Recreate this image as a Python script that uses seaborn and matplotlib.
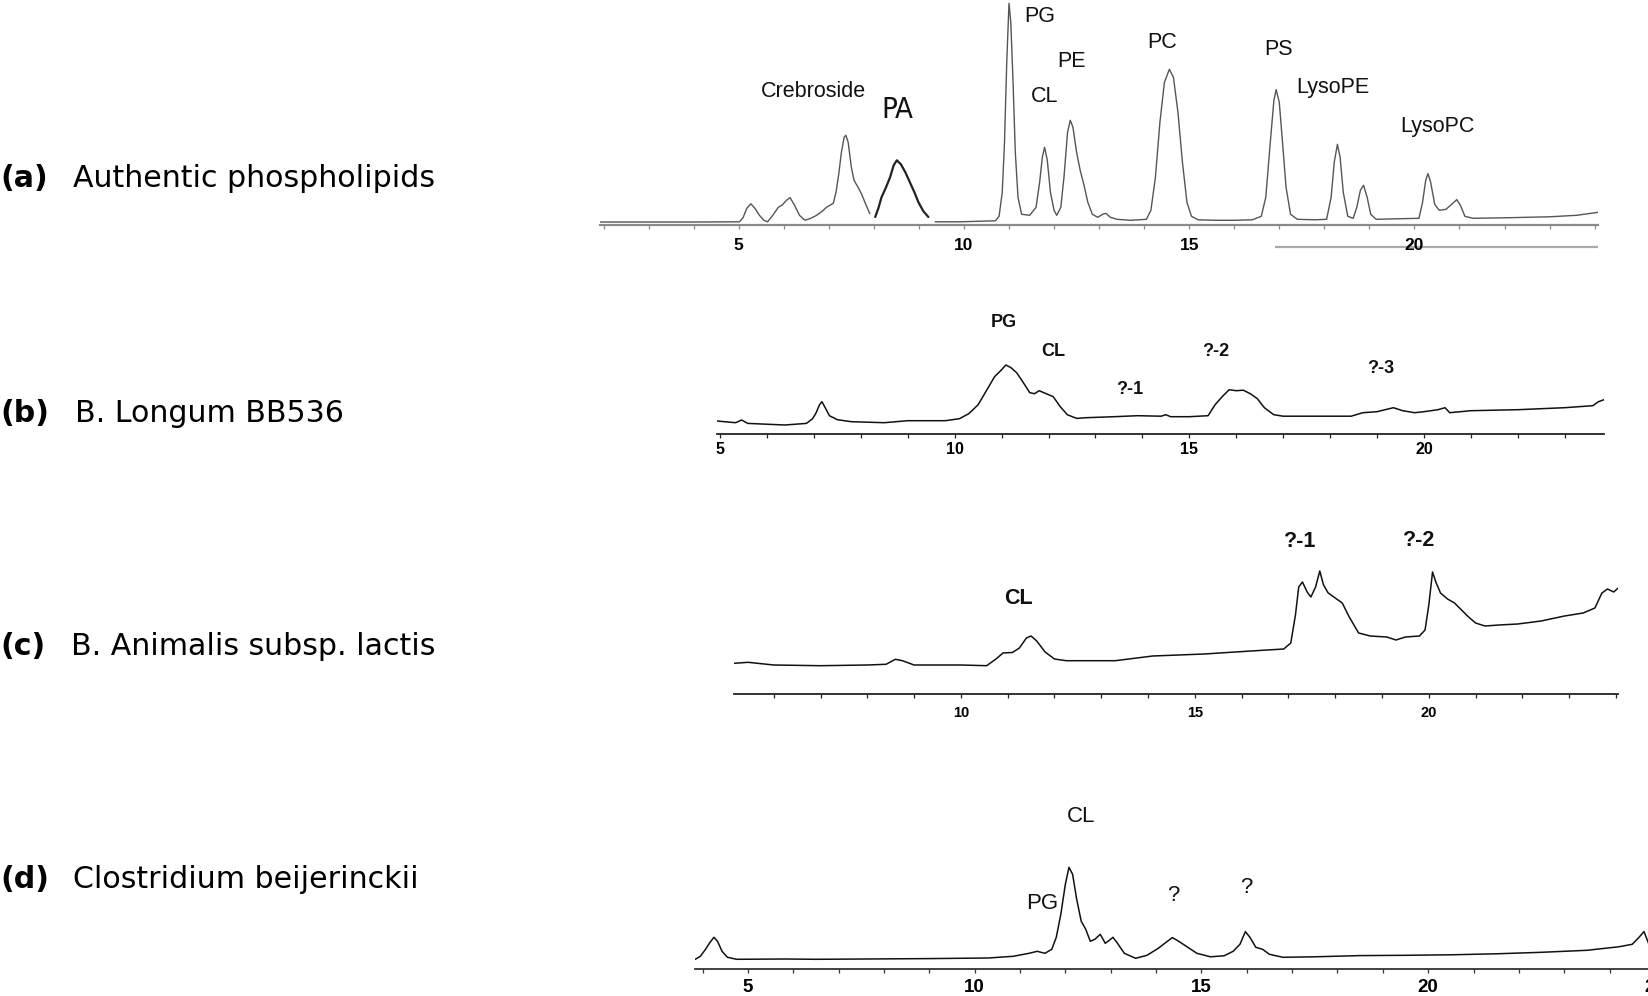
import matplotlib
matplotlib.use("Agg")
import matplotlib.pyplot as plt
from matplotlib.ticker import MultipleLocator
import seaborn as sns
import pandas as pd

# ---------------- data (retention time in min, detector response in a.u.) -------------
# (a) Authentic phospholipids : three recorded pieces of the trace
a1_time = [1.93, 3.0, 4.0, 5.02, 5.1, 5.18, 5.27, 5.36, 5.46, 5.56, 5.64, 5.74, 5.88, 5.96,
           6.06, 6.14, 6.24, 6.35, 6.47, 6.6, 6.73, 6.85, 6.95, 7.1, 7.16, 7.22, 7.28, 7.34,
           7.38, 7.43, 7.5, 7.56, 7.65, 7.73, 7.82, 7.91]
a1_signal = [0.3, 0.3, 0.3, 0.5, 5, 14, 18.5, 14, 7, 2, 0.5, 6, 15, 17,
             22, 24.7, 17, 7, 2, 4, 7, 11, 15, 19, 30, 48, 70, 85,
             87, 80, 55, 42, 35, 28, 18, 8.7]
a2_time = [8.03, 8.1, 8.17, 8.27, 8.36, 8.44, 8.51, 8.6, 8.7, 8.8, 8.9, 8.99, 9.1, 9.21]
a2_signal = [5.3, 14, 25, 35, 45, 57, 62, 58, 50, 40, 30, 20, 11, 5.3]
a3_time = [9.36, 9.92, 10.3, 10.7, 10.78, 10.85, 10.9, 10.95, 11.0, 11.04, 11.09, 11.14, 11.2,
           11.28, 11.46, 11.6, 11.68, 11.74, 11.79, 11.85, 11.92, 12.0, 12.06, 12.15, 12.22,
           12.3, 12.36, 12.42, 12.5, 12.58, 12.66, 12.75, 12.85, 12.97, 13.08, 13.15, 13.25,
           13.4, 13.7, 14.05, 14.15, 14.25, 14.35, 14.45, 14.56, 14.65, 14.75, 14.85, 14.95,
           15.05, 15.2, 15.6, 16.0, 16.4, 16.6, 16.7, 16.8, 16.88, 16.93, 17.0, 17.08, 17.15,
           17.25, 17.4, 17.8, 18.05, 18.15, 18.22, 18.29, 18.35, 18.42, 18.52, 18.64, 18.72,
           18.8, 18.87, 18.95, 19.03, 19.15, 19.6, 20.1, 20.18, 20.25, 20.3, 20.36, 20.45,
           20.55, 20.7, 20.85, 20.94, 21.02, 21.12, 21.3, 22.0, 23.0, 23.6, 24.08]
a3_signal = [0.5, 0.5, 1.0, 1.5, 6, 30, 80, 160, 219, 200, 140, 70, 25,
             8, 7, 15, 40, 65, 75, 62, 30, 12, 7, 15, 45,
             90, 102, 95, 70, 52, 38, 20, 8, 5, 8, 9, 5,
             3, 2, 3, 12, 45, 100, 140, 153, 145, 110, 60, 20,
             6, 2.5, 2, 2, 2.5, 6, 25, 80, 122, 132.7, 120, 75, 35,
             8, 3, 2.5, 3, 25, 60, 78, 65, 30, 6, 4, 15,
             32, 37, 25, 8, 3, 3.5, 4, 20, 42, 48.7, 40, 18,
             12, 13, 19, 22.7, 17, 6, 4, 4.5, 5.5, 7, 10]
a_peak_names = ["Crebroside", "PG", "CL", "PE", "PC", "PS", "LysoPE", "LysoPC"]
a_peak_time = [6.67, 11.68, 11.78, 12.39, 14.41, 16.98, 18.19, 20.5]
a_peak_level = [130.6, 206.3, 125.6, 160.6, 179.6, 173.0, 135.0, 95.6]
a_pa_name, a_pa_time, a_pa_level = "PA", 8.51, 112.3

# (b) B. Longum BB536
b_time = [4.93, 5.33, 5.46, 5.59, 6.38, 6.84, 6.97, 7.04, 7.12, 7.17, 7.24, 7.33, 7.5, 7.8,
          8.5, 9.0, 9.8, 10.1, 10.3, 10.5, 10.7, 10.85, 11.0, 11.09, 11.2, 11.32, 11.45, 11.6,
          11.7, 11.8, 11.95, 12.1, 12.25, 12.4, 12.6, 12.8, 13.4, 13.9, 14.4, 14.5, 14.6,
          15.0, 15.4, 15.55, 15.7, 15.85, 16.0, 16.15, 16.3, 16.45, 16.6, 16.8, 17.0, 18.45,
          18.7, 19.0, 19.35, 19.55, 19.8, 20.0, 20.3, 20.45, 20.55, 21.0, 22.0, 23.0, 23.6,
          23.72, 23.84]
b_signal = [0.7, -1, 1.7, -1.7, -3.3, -1.7, 3, 8.3, 17, 20, 14, 6, 2, 0,
            -1, 1, 1, 3, 8, 17, 33, 45, 52, 56.7, 54, 49, 40, 29,
            28, 31, 28, 25, 15, 7, 3.3, 4, 5, 6, 5.5, 7, 5,
            5, 6, 17, 25, 32, 31, 31.5, 28, 23, 14, 7, 5.5, 5.5,
            9, 10, 14, 11, 9, 10, 12, 14, 9, 11, 12, 14, 16,
            20, 22]
b_peak_names = ["PG", "CL", "?-1", "?-2", "?-3"]
b_peak_time = [11.05, 12.11, 13.72, 15.56, 19.08]
b_peak_level = [99.4, 70.0, 31.7, 70.0, 53.4]

# (c) B. Animalis subsp. lactis
c_time = [5.16, 5.45, 6.0, 7.0, 8.0, 8.4, 8.6, 8.75, 9.0, 10.0, 10.55, 10.75, 10.9, 11.1,
          11.25, 11.4, 11.5, 11.62, 11.8, 12.0, 12.25, 13.3, 14.1, 15.2, 16.2, 16.9, 17.05,
          17.15, 17.22, 17.3, 17.4, 17.48, 17.58, 17.67, 17.75, 17.85, 18.0, 18.15, 18.3,
          18.5, 18.75, 19.1, 19.3, 19.5, 19.8, 19.92, 20.0, 20.08, 20.15, 20.25, 20.4, 20.55,
          20.7, 20.85, 21.0, 21.2, 21.5, 21.9, 22.4, 22.9, 23.3, 23.55, 23.7, 23.82, 23.95,
          24.05]
c_signal = [1.7, 2.7, 0, -0.7, 0, 0.7, 5.7, 4.3, 0, 0, -0.7, 6, 12, 12.5,
            17, 27, 29, 24, 13, 6, 4.3, 4.3, 9, 11, 14, 16, 22,
            50, 78, 83, 73, 68, 78, 94, 80, 72, 67, 62, 48,
            32, 29, 28, 25, 28, 29, 35, 60, 93, 83, 72, 66, 62,
            55, 48, 42, 39, 40, 41, 44, 49, 52, 57, 72, 76, 73,
            77]
c_peak_names = ["CL", "?-1", "?-2"]
c_peak_time = [11.23, 17.26, 19.8]
c_peak_level = [66.7, 123.3, 125.0]

# (d) Clostridium beijerinckii
d_time = [3.84, 3.95, 4.05, 4.15, 4.25, 4.33, 4.43, 4.55, 4.75, 5.8, 6.5, 7.6, 9.0, 10.3,
          10.85, 11.2, 11.38, 11.55, 11.7, 11.8, 11.9, 12.0, 12.08, 12.16, 12.25, 12.35,
          12.45, 12.55, 12.65, 12.77, 12.88, 12.97, 13.05, 13.15, 13.3, 13.55, 13.8, 14.05,
          14.25, 14.36, 14.5, 14.7, 14.9, 15.2, 15.5, 15.7, 15.85, 15.97, 16.07, 16.2, 16.35,
          16.5, 16.8, 17.5, 18.5, 19.5, 20.5, 21.5, 22.5, 23.5, 24.2, 24.5, 24.65, 24.76,
          24.86]
d_signal = [0, 3, 9, 16, 22, 18, 8, 2, 0, 0.3, 0, 0.3, 0.7, 1.3,
            3, 6, 8, 6, 10, 22, 45, 75, 92, 85, 60, 38,
            30, 18, 20, 25, 16, 19, 22, 16, 6, 1, 4, 11,
            18, 21.7, 18, 12, 6, 2.5, 3.5, 8, 15, 27.7, 22, 12, 10,
            5, 2, 2.5, 3.7, 4, 4.5, 5.5, 7, 9, 12.5, 15, 22, 27.7,
            16]
d_peak_names = ["CL", "PG", "?", "?"]
d_peak_time = [12.35, 11.49, 14.37, 15.98]
d_peak_level = [143.0, 56.0, 64.0, 72.0]

panel_tags = ["(a)", "(b)", "(c)", "(d)"]
panel_names = ["Authentic phospholipids", "B. Longum BB536",
               "B. Animalis subsp. lactis", "Clostridium beijerinckii"]

# ---------------- figure ----------------
sns.set_style("white")
plt.rcParams["font.family"] = ["DejaVu Sans"]
plt.rcParams["text.color"] = "black"

W, H = 1648, 996
fig = plt.figure(figsize=(W / 100, H / 100), dpi=100)
fig.patch.set_facecolor("white")


def add_panel(ref_min, ref_px, px_per_min, xlim, spine_px, top_px, ylim):
    x0 = ref_px + (xlim[0] - ref_min) * px_per_min
    x1 = ref_px + (xlim[1] - ref_min) * px_per_min
    ax = fig.add_axes([x0 / W, 1 - spine_px / H, (x1 - x0) / W, (spine_px - top_px) / H])
    ax.set_xlim(*xlim)
    ax.set_ylim(*ylim)
    ax.set_facecolor("none")
    for s in ("left", "top", "right"):
        ax.spines[s].set_visible(False)
    ax.set_yticks([])
    ax.xaxis.set_major_locator(MultipleLocator(5))
    ax.xaxis.set_minor_locator(MultipleLocator(1))
    return ax


def style_axis(ax, color, lw, labelsize, pad, weight):
    ax.spines["bottom"].set_color(color)
    ax.spines["bottom"].set_linewidth(lw)
    ax.tick_params(axis="x", which="both", direction="out", length=3.2, width=0.9,
                   color=color, bottom=True, pad=pad, labelsize=labelsize,
                   labelcolor="black", labelfontfamily="Liberation Sans")
    plt.setp(ax.get_xticklabels(), fontweight=weight)


lab_font = ["Liberation Sans", "DejaVu Sans"]

# (a)
ax_a = add_panel(5, 738.7, 45.05, (1.93, 24.08), 224.7, 0, (-2.4, 222.3))
df_a = pd.concat([
    pd.DataFrame({"time": a1_time, "signal": a1_signal, "segment": 1}),
    pd.DataFrame({"time": a2_time, "signal": a2_signal, "segment": 2}),
    pd.DataFrame({"time": a3_time, "signal": a3_signal, "segment": 3}),
])
sns.lineplot(data=df_a[df_a.segment != 2], x="time", y="signal", units="segment",
             estimator=None, sort=False, color="#555555", lw=1.0, ax=ax_a, legend=False)
sns.lineplot(data=df_a[df_a.segment == 2], x="time", y="signal", estimator=None,
             sort=False, color="#222222", lw=1.6, ax=ax_a, legend=False)
style_axis(ax_a, "#8a8a8a", 1.6, 12.5, 6.5, "bold")
ax_a.hlines(-25, 16.9, 24.08, color="#aaaaaa", lw=1.6, clip_on=False, zorder=0)
for name, t, lv in zip(a_peak_names, a_peak_time, a_peak_level):
    ax_a.text(t, lv, name, ha="center", va="center", fontsize=15.5, family=lab_font,
              color="#111111")
ax_a.text(a_pa_time, a_pa_level, a_pa_name, ha="center", va="center", fontsize=21,
          family=["Liberation Sans Narrow", "DejaVu Sans"], fontstretch="condensed",
          color="#111111")

# (b)
ax_b = add_panel(5, 720.1, 46.92, (4.93, 23.84), 434.0, 300, (-12.3, 121.7))
df_b = pd.DataFrame({"time": b_time, "signal": b_signal})
sns.lineplot(data=df_b, x="time", y="signal", estimator=None, sort=False,
             color="#111111", lw=1.1, ax=ax_b, legend=False)
style_axis(ax_b, "#222222", 1.3, 11.5, 2.2, "bold")
for name, t, lv in zip(b_peak_names, b_peak_time, b_peak_level):
    ax_b.text(t, lv, name, ha="center", va="center", fontsize=13, fontweight="bold",
              family=lab_font, color="#111111")

# (c)
ax_c = add_panel(10, 960.9, 46.79, (5.16, 24.05), 694.3, 520, (-29.3, 145))
df_c = pd.DataFrame({"time": c_time, "signal": c_signal})
sns.lineplot(data=df_c, x="time", y="signal", estimator=None, sort=False,
             color="#111111", lw=1.1, ax=ax_c, legend=False)
style_axis(ax_c, "#222222", 1.3, 10.5, 5.0, "bold")
for name, t, lv in zip(c_peak_names, c_peak_time, c_peak_level):
    ax_c.text(t, lv, name, ha="center", va="center", fontsize=15.5, fontweight="bold",
              family=lab_font, color="#111111")

# (d)
ax_d = add_panel(5, 747.9, 45.35, (3.84, 25.3), 969.3, 800, (-10, 159.3))
df_d = pd.DataFrame({"time": d_time, "signal": d_signal})
sns.lineplot(data=df_d, x="time", y="signal", estimator=None, sort=False,
             color="#111111", lw=1.1, ax=ax_d, legend=False)
style_axis(ax_d, "#333333", 1.3, 13.5, 4.0, "bold")
for name, t, lv in zip(d_peak_names, d_peak_time, d_peak_level):
    ax_d.text(t, lv, name, ha="center", va="center", fontsize=16, family=lab_font,
              color="#111111")

for ax in (ax_a, ax_b, ax_c, ax_d):
    ax.set_xlabel("")
    ax.set_ylabel("")

# panel captions on the left
tag_baseline_px = [187.3, 421.7, 655.0, 888.3]
name_left_px = [72.7, 75.0, 70.7, 73.3]
for tag, name, yb, xl in zip(panel_tags, panel_names, tag_baseline_px, name_left_px):
    fig.text(0.5 / W, 1 - yb / H, tag, ha="left", va="baseline", fontsize=21.6,
             fontweight="bold", family=["DejaVu Sans"], color="black")
    fig.text(xl / W, 1 - yb / H, name, ha="left", va="baseline", fontsize=21.6,
             family=["DejaVu Sans"], color="black")

fig.savefig("out.png", dpi=100, facecolor="white")
